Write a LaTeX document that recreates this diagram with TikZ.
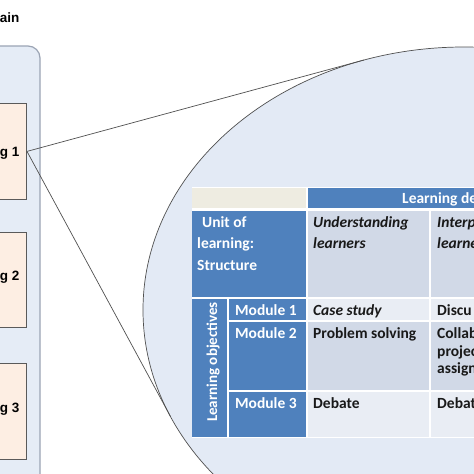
\documentclass[tikz,border=0pt]{standalone}
\usepackage{fontspec}
\setmainfont{Carlito}
\newfontfamily\arialf{Liberation Sans}
\definecolor{contf}{HTML}{E5ECF6}
\definecolor{contb}{HTML}{9BA4B4}
\definecolor{boxf}{HTML}{FDEEE3}
\definecolor{boxb}{HTML}{5A5A5A}
\definecolor{zoomf}{HTML}{E3EAF5}
\definecolor{zoomb}{HTML}{505050}
\definecolor{tblue}{HTML}{4F81BD}
\definecolor{tdark}{HTML}{D1D9E7}
\definecolor{tlight}{HTML}{E9EDF4}
\definecolor{tbeige}{HTML}{EEECE1}
\begin{document}
\begin{tikzpicture}[x=1pt,y=-1pt,
  container/.style={draw=contb, fill=contf, line width=1.2pt, rounded corners=12pt},
  peachbox/.style={draw=boxb, fill=boxf, line width=0.8pt, rectangle, inner sep=0pt, minimum width=60pt, anchor=north east},
  sidelbl/.style={font=\arialf\bfseries\fontsize{13.5}{16}\selectfont, anchor=base east, inner sep=0pt},
  zoomline/.style={draw=zoomb, line width=0.7pt},
  zoomshape/.style={draw=zoomb, fill=zoomf, line width=0.7pt},
  cellw/.style={font=\bfseries\fontsize{15.5}{18}\selectfont, text=white, anchor=base west, inner sep=0pt},
  cellk/.style={font=\bfseries\fontsize{15.5}{18}\selectfont, text=black!90, anchor=base west, inner sep=0pt},
  celli/.style={font=\bfseries\itshape\fontsize{15.5}{18}\selectfont, text=black!90, anchor=base west, inner sep=0pt}
]
\useasboundingbox (0,0) rectangle (474,474);
\clip (0,0) rectangle (474,474);
\fill[white] (0,0) rectangle (474,474);

% title fragment
\node[sidelbl] (title) at (19.5,22) {ain};

% left container
\draw[container] (-30,46) rectangle (40,500);
\node[peachbox, minimum height=96pt] (b1) at (27,103) {};
\node[peachbox, minimum height=95pt] (b2) at (27,232) {};
\node[peachbox, minimum height=96pt] (b3) at (27,363) {};
\node[sidelbl] (l1) at (19.5,156) {g 1};
\node[sidelbl] (l2) at (19.5,280) {g 2};
\node[sidelbl] (l3) at (19.5,412) {g 3};

% zoom ellipse
\coordinate (zc) at (464,310);
\draw[zoomshape] (zc) ellipse [x radius=321pt, y radius=263pt];

% table background
\fill[white] (192,187) rectangle (480,438);
% header row
\fill[tbeige] (192,188) rectangle (306,208);
\fill[tblue] (308,188) rectangle (480,208);
% row 2
\fill[tblue] (192,211) rectangle (306,297);
\fill[tdark] (308,211) rectangle (428.5,297);
\fill[tdark] (430.5,211) rectangle (480,297);
% left columns
\fill[tblue] (192,299) rectangle (227,437);
\fill[tblue] (229,299) rectangle (306,320);
\fill[tblue] (229,322) rectangle (306,390);
\fill[tblue] (229,392) rectangle (306,437);
% column 2
\fill[tlight] (308,299) rectangle (428.5,320);
\fill[tdark] (308,322) rectangle (428.5,390);
\fill[tlight] (308,392) rectangle (428.5,437);
% column 3
\fill[tlight] (430.5,299) rectangle (480,320);
\fill[tdark] (430.5,322) rectangle (480,390);
\fill[tlight] (430.5,392) rectangle (480,437);

% table texts
\node[cellw] (hdr) at (402,203) {Learning de};
\node[cellw] (u1) at (202,227) {Unit of};
\node[cellw] (u2) at (197,248) {learning:};
\node[cellw] (u3) at (197,270) {Structure};
\node[celli] (c21) at (313,227) {Understanding};
\node[celli] (c22) at (313,248) {learners};
\node[celli] (c31) at (437,227) {Interp};
\node[celli] (c32) at (437,248) {learne};
\node[cellw, font=\bfseries\fontsize{15}{18}\selectfont, rotate=90, anchor=center] (lo) at (213,362) {Learning objectives};
\node[cellw] (m1) at (235,315) {Module 1};
\node[cellw] (m2) at (235,338) {Module 2};
\node[cellw] (m3) at (235,408) {Module 3};
\node[celli] (r1a) at (313,315) {Case study};
\node[cellk] (r2a) at (313,338) {Problem solving};
\node[cellk] (r3a) at (313,408) {Debate};
\node[cellk] (r1b) at (437,315) {Discu};
\node[cellk] (r2b) at (437,338) {Collab};
\node[cellk] (r2c) at (437,356) {projec};
\node[cellk] (r2d) at (437,373) {assign};
\node[cellk] (r3b) at (437,408) {Debat};

% zoom lines
\coordinate (t1) at (364,60);
\coordinate (t2) at (170.5,416.5);
\draw[zoomline] (b1.east) -- (t1);
\draw[zoomline] (b1.east) -- (t2);
\end{tikzpicture}
\end{document}
